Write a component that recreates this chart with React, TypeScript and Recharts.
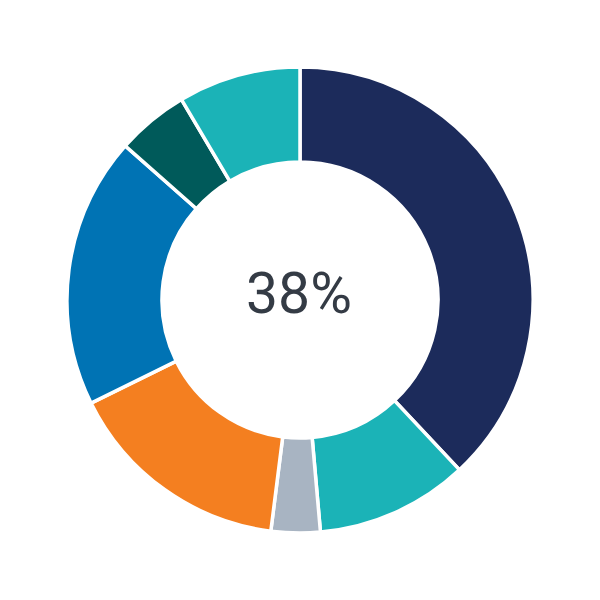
import React from "react";
import { PieChart, Pie, Cell, Label } from "recharts";

const categories = ["A", "B", "C", "D", "E", "F", "G"];
const values = [38, 10.6, 3.4, 15.7, 18.8, 5.0, 8.5];
const colors = ["#1c2b5b", "#1bb3b7", "#a8b4c2", "#f47f20", "#0073b4", "#005a5a", "#1bb3b7"];
const centerLabel = "38%";

const data = categories.map((name, i) => ({ name, value: values[i] }));

export default function App() {
  return (
    <PieChart width={584} height={584}>
      <Pie
        data={data}
        dataKey="value"
        nameKey="name"
        cx={287}
        cy={287}
        innerRadius={138}
        outerRadius={233}
        startAngle={90}
        endAngle={-270}
        stroke="#ffffff"
        strokeWidth={3.5}
        isAnimationActive={false}
      >
        {data.map((d, i) => (
          <Cell key={d.name} fill={colors[i]} />
        ))}
        <Label
          position="center"
          content={() => (
            <text
              x={291}
              y={305}
              textAnchor="middle"
              fontFamily="Roboto, 'Liberation Sans', sans-serif"
              fontSize={57}
              fill="#343b45"
            >
              {centerLabel}
            </text>
          )}
        />
      </Pie>
    </PieChart>
  );
}
